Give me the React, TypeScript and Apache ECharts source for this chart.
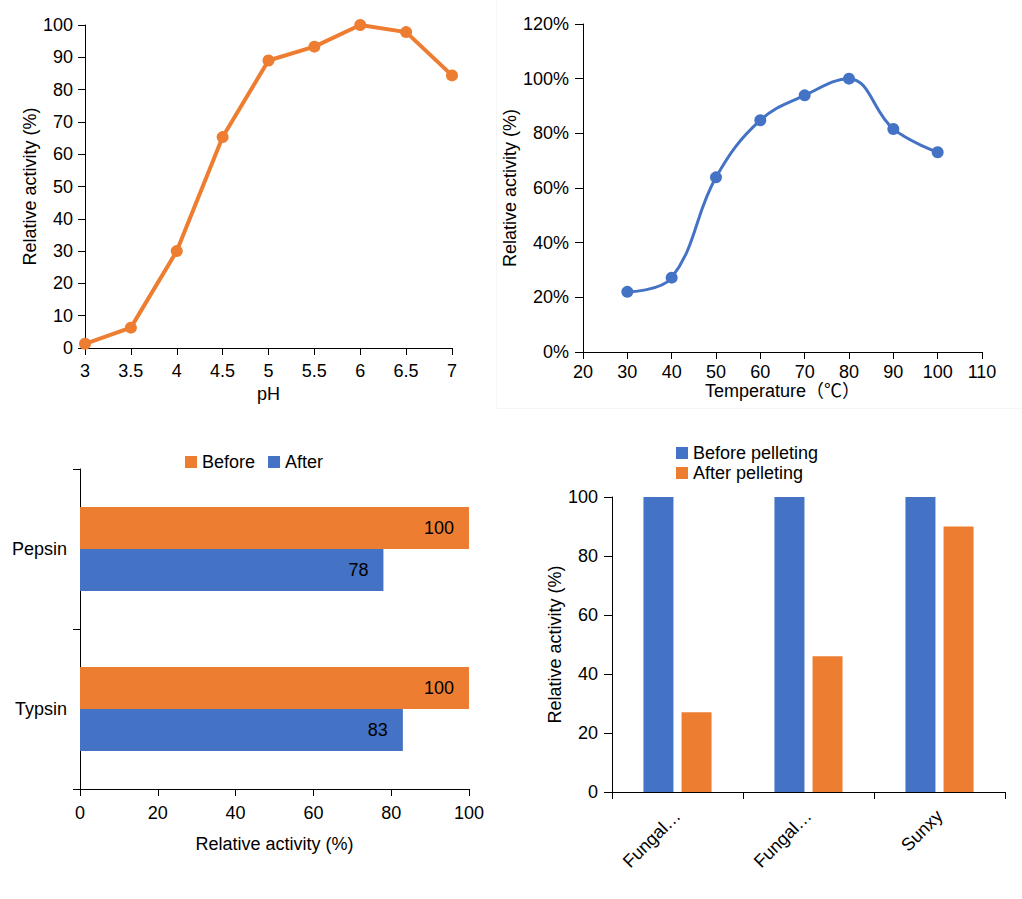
import React, { useEffect, useRef } from "react";
import * as echarts from "echarts";

const phValues = [3, 3.5, 4, 4.5, 5, 5.5, 6, 6.5, 7];
const phActivity = [1.3, 6.3, 30, 65.3, 89, 93.3, 100, 97.8, 84.4];

const tempValues = [30, 40, 50, 60, 70, 80, 90, 100];
const tempActivity = [22, 27.2, 63.9, 84.8, 93.9, 100, 81.6, 73.1];

const proteaseCategories = ["Pepsin", "Typsin"];
const proteaseBefore = [100, 100];
const proteaseAfter = [78, 83];

const pelletCategories = ["Fungal…", "Fungal…", "Sunxy"];
const pelletBefore = [100, 100, 100];
const pelletAfter = [27, 46, 90];

const ORANGE = "#ED7D31";
const BLUE = "#4472C4";
const FONT = 'Arial, "Liberation Sans", "Noto Sans CJK SC", sans-serif';
const FS = 18;

const axisLineStyle = { show: true, lineStyle: { color: "#000", width: 1 } };
const tickStyle = (len: number) => ({ show: true, length: len, lineStyle: { color: "#000", width: 1 } });
const labelStyle = (margin: number) => ({ color: "#000", fontSize: FS, fontFamily: FONT, margin });
const nameStyle = { color: "#000", fontSize: FS, fontFamily: FONT };

export default function App() {
  const ref = useRef<HTMLDivElement>(null);
  useEffect(() => {
    if (!ref.current) return;
    const chart = echarts.init(ref.current, null, { renderer: "svg" });
    const option: any = {
      animation: false,
      backgroundColor: "#fff",
      textStyle: { fontFamily: FONT },
      graphic: [
        {
          type: "rect",
          shape: { x: 496.5, y: -2, width: 540, height: 410.5 },
          style: { fill: "none", stroke: "#f6f6f6", lineWidth: 1 },
          silent: true,
        },
      ],
      legend: [
        {
          data: ["Before", "After"],
          left: 180,
          top: 448,
          orient: "horizontal",
          icon: "rect",
          itemWidth: 12,
          itemHeight: 12,
          itemGap: 13,
          textStyle: { color: "#000", fontSize: FS, fontFamily: FONT },
        },
        {
          data: ["Before pelleting", "After pelleting"],
          left: 671,
          top: 439,
          orient: "vertical",
          icon: "rect",
          itemWidth: 12,
          itemHeight: 12,
          itemGap: 2,
          textStyle: { color: "#000", fontSize: FS, fontFamily: FONT },
        },
      ],
      grid: [
        { left: 85, top: 25, width: 367, height: 323 },
        { left: 583, top: 24, width: 399, height: 328 },
        { left: 80, top: 469, width: 389, height: 320 },
        { left: 612, top: 497, width: 393, height: 295 },
      ],
      xAxis: [
        {
          gridIndex: 0,
          type: "value",
          min: 3,
          max: 7,
          interval: 0.5,
          name: "pH",
          nameLocation: "middle",
          nameGap: 37,
          nameTextStyle: nameStyle,
          axisLine: axisLineStyle,
          axisTick: tickStyle(7),
          axisLabel: labelStyle(14),
          splitLine: { show: false },
        },
        {
          gridIndex: 1,
          type: "value",
          min: 20,
          max: 110,
          interval: 10,
          name: "Temperature（℃）",
          nameLocation: "middle",
          nameGap: 28,
          nameTextStyle: nameStyle,
          axisLine: axisLineStyle,
          axisTick: tickStyle(7),
          axisLabel: labelStyle(11),
          splitLine: { show: false },
        },
        {
          gridIndex: 2,
          type: "value",
          min: 0,
          max: 100,
          interval: 20,
          name: "Relative activity (%)",
          nameLocation: "middle",
          nameGap: 46,
          nameTextStyle: nameStyle,
          axisLine: axisLineStyle,
          axisTick: tickStyle(7),
          axisLabel: labelStyle(15),
          splitLine: { show: false },
        },
        {
          gridIndex: 3,
          type: "category",
          data: pelletCategories,
          axisLine: axisLineStyle,
          axisTick: tickStyle(7),
          axisLabel: { ...labelStyle(21), rotate: 45, interval: 0 },
          splitLine: { show: false },
        },
      ],
      yAxis: [
        {
          gridIndex: 0,
          type: "value",
          min: 0,
          max: 100,
          interval: 10,
          name: "Relative activity (%)",
          nameLocation: "middle",
          nameGap: 41,
          nameTextStyle: nameStyle,
          axisLine: axisLineStyle,
          axisTick: tickStyle(7),
          axisLabel: labelStyle(12),
          splitLine: { show: false },
        },
        {
          gridIndex: 1,
          type: "value",
          min: 0,
          max: 120,
          interval: 20,
          name: "Relative activity (%)",
          nameLocation: "middle",
          nameGap: 62,
          nameTextStyle: nameStyle,
          axisLine: axisLineStyle,
          axisTick: tickStyle(8),
          axisLabel: { ...labelStyle(14), formatter: "{value}%" },
          splitLine: { show: false },
        },
        {
          gridIndex: 2,
          type: "category",
          inverse: true,
          data: proteaseCategories,
          axisLine: axisLineStyle,
          axisTick: tickStyle(7),
          axisLabel: labelStyle(13),
          splitLine: { show: false },
        },
        {
          gridIndex: 3,
          type: "value",
          min: 0,
          max: 100,
          interval: 20,
          name: "Relative activity (%)",
          nameLocation: "middle",
          nameGap: 43,
          nameTextStyle: nameStyle,
          axisLine: axisLineStyle,
          axisTick: tickStyle(8),
          axisLabel: labelStyle(14),
          splitLine: { show: false },
        },
      ],
      series: [
        {
          name: "pH",
          type: "line",
          xAxisIndex: 0,
          yAxisIndex: 0,
          data: phValues.map((x, i) => [x, phActivity[i]]),
          symbol: "circle",
          symbolSize: 12,
          itemStyle: { color: ORANGE },
          lineStyle: { color: ORANGE, width: 4 },
        },
        {
          name: "Temperature",
          type: "line",
          xAxisIndex: 1,
          yAxisIndex: 1,
          smooth: 0.4,
          data: tempValues.map((x, i) => [x, tempActivity[i]]),
          symbol: "circle",
          symbolSize: 12,
          itemStyle: { color: BLUE },
          lineStyle: { color: BLUE, width: 3 },
        },
        {
          name: "Before",
          type: "bar",
          xAxisIndex: 2,
          yAxisIndex: 2,
          data: proteaseBefore,
          barWidth: 42,
          barGap: "0%",
          itemStyle: { color: ORANGE },
          label: {
            show: true,
            position: "insideRight",
            distance: 15,
            color: "#000",
            fontSize: FS,
            fontFamily: FONT,
          },
        },
        {
          name: "After",
          type: "bar",
          xAxisIndex: 2,
          yAxisIndex: 2,
          data: proteaseAfter,
          barWidth: 42,
          barGap: "0%",
          itemStyle: { color: BLUE },
          label: {
            show: true,
            position: "insideRight",
            distance: 15,
            color: "#000",
            fontSize: FS,
            fontFamily: FONT,
          },
        },
        {
          name: "Before pelleting",
          type: "bar",
          xAxisIndex: 3,
          yAxisIndex: 3,
          data: pelletBefore,
          barWidth: 30,
          barGap: "27%",
          itemStyle: { color: BLUE },
        },
        {
          name: "After pelleting",
          type: "bar",
          xAxisIndex: 3,
          yAxisIndex: 3,
          data: pelletAfter,
          barWidth: 30,
          barGap: "27%",
          itemStyle: { color: ORANGE },
        },
      ],
    };
    chart.setOption(option);
    return () => chart.dispose();
  }, []);
  return (
    <div
      ref={ref}
      style={{ position: "fixed", left: 0, top: 0, width: 1022, height: 899, background: "#fff" }}
    />
  );
}
